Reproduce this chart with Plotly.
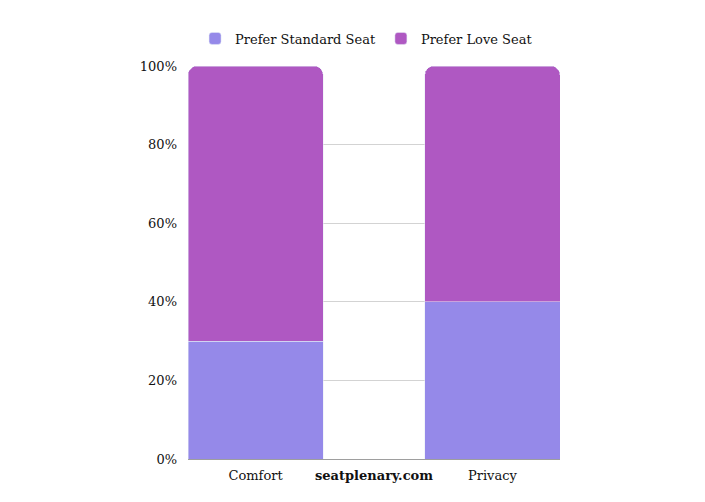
import plotly.graph_objects as go

categories = ["Comfort", "Privacy"]
standard = [30, 40]
love = [70, 60]
tick_vals = [0, 20, 40, 60, 80, 100]
tick_text = ["0%", "20%", "40%", "60%", "80%", "100%"]

font_family = "DejaVu Serif"

fig = go.Figure()
fig.add_trace(go.Bar(x=[0, 1], y=standard, name="Prefer Standard Seat",
                     marker_color="#9589E9", width=0.571))
fig.add_trace(go.Bar(x=[0, 1], y=love, name="Prefer Love Seat",
                     marker_color="#AF58C2", width=0.571))

fig.update_layout(
    width=705, height=502,
    barmode="stack",
    barcornerradius=9,
    plot_bgcolor="white", paper_bgcolor="white",
    margin=dict(l=180, r=153, t=58, b=51),
    font=dict(family=font_family, size=13, color="#111111"),
    showlegend=True,
    legend=dict(orientation="h", x=0.48, xanchor="center", y=1.07, yanchor="middle",
                font=dict(size=13, color="#111111"), traceorder="normal",
                itemwidth=30),
    xaxis=dict(range=[-0.2855, 1.2855], tickmode="array", tickvals=[0, 1],
               ticktext=categories, showgrid=False, zeroline=False,
               showline=False, ticks="", ticklabelstandoff=7),
    yaxis=dict(range=[0, 100], tickmode="array", tickvals=tick_vals, ticktext=tick_text,
               showgrid=True, gridcolor="#D3D3D3", gridwidth=1, zeroline=True,
               zerolinecolor="#9E9E9E", zerolinewidth=1, ticks="", ticklabelstandoff=10),
)
fig.add_annotation(text="<b>seatplenary.com</b>", x=0.5, y=0, xref="x", yref="y",
                   yshift=-16, showarrow=False, font=dict(size=13, color="#111111"))

fig.write_html("out.html")
